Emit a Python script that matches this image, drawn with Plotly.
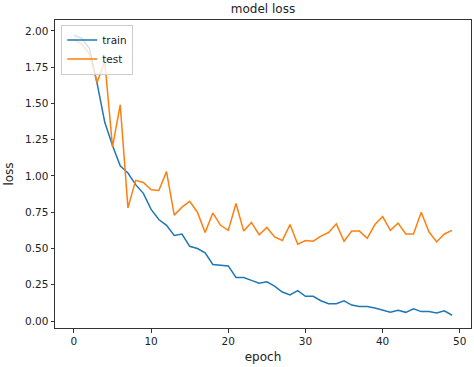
import plotly.graph_objects as go

epochs = list(range(50))
train_loss = [1.97, 1.95, 1.88, 1.64, 1.37, 1.21, 1.07, 1.02, 0.94, 0.88,
              0.77, 0.70, 0.66, 0.59, 0.60, 0.515, 0.50, 0.47, 0.39, 0.385,
              0.38, 0.30, 0.30, 0.28, 0.26, 0.27, 0.24, 0.20, 0.18, 0.21,
              0.17, 0.17, 0.14, 0.12, 0.12, 0.14, 0.11, 0.10, 0.10, 0.09,
              0.075, 0.06, 0.075, 0.06, 0.085, 0.065, 0.065, 0.055, 0.07, 0.04]
test_loss = [1.94, 1.91, 1.84, 1.645, 1.79, 1.20, 1.49, 0.78, 0.97, 0.955,
             0.905, 0.90, 1.03, 0.73, 0.785, 0.825, 0.75, 0.61, 0.745, 0.66,
             0.625, 0.81, 0.62, 0.68, 0.595, 0.645, 0.58, 0.555, 0.665, 0.53,
             0.555, 0.55, 0.585, 0.61, 0.67, 0.55, 0.62, 0.62, 0.57, 0.665,
             0.72, 0.625, 0.675, 0.60, 0.60, 0.75, 0.615, 0.545, 0.60, 0.625]
x_ticks = [0, 10, 20, 30, 40, 50]
y_ticks = [0.0, 0.25, 0.5, 0.75, 1.0, 1.25, 1.5, 1.75, 2.0]

FONT = "DejaVu Sans"

fig = go.Figure()
fig.add_trace(go.Scatter(x=epochs, y=train_loss, mode="lines", name="train",
                         line=dict(color="#1f77b4", width=1.5)))
fig.add_trace(go.Scatter(x=epochs, y=test_loss, mode="lines", name="test",
                         line=dict(color="#ff7f0e", width=1.5)))

axis_common = dict(showline=True, linecolor="#333333", linewidth=1, mirror=True,
                   ticks="outside", ticklen=3.5, tickwidth=1, tickcolor="#333333",
                   showgrid=False, zeroline=False, automargin=False,
                   tickfont=dict(family=FONT, size=10.5, color="#222222"))

fig.update_layout(
    width=474, height=367,
    margin=dict(l=55, r=3, t=20, b=39, autoexpand=False),
    paper_bgcolor="white", plot_bgcolor="white",
    font=dict(family=FONT, size=10.5, color="#222222"),
    title=dict(text="model loss", x=0.5, xref="paper", y=1 - 9 / 367, yref="container",
               xanchor="center", yanchor="middle",
               font=dict(family=FONT, size=12, color="#222222")),
    xaxis=dict(range=[-2.45, 51.45], tickvals=x_ticks,
               title=dict(text="epoch", standoff=6, font=dict(family=FONT, size=12)),
               **axis_common),
    yaxis=dict(range=[-0.048, 2.075], tickvals=y_ticks, tickformat=".2f",
               title=dict(text="loss", standoff=8, font=dict(family=FONT, size=12)),
               **axis_common),
    legend=dict(x=0.015, y=0.985, xanchor="left", yanchor="top",
                bgcolor="rgba(255,255,255,0.8)", bordercolor="#cccccc", borderwidth=1,
                font=dict(family=FONT, size=10.5), tracegroupgap=0,
                itemwidth=30),
    showlegend=True,
)

fig.write_html("out.html", config={"displayModeBar": False},
               post_script="document.body.style.margin='0';document.body.style.overflow='hidden';")
